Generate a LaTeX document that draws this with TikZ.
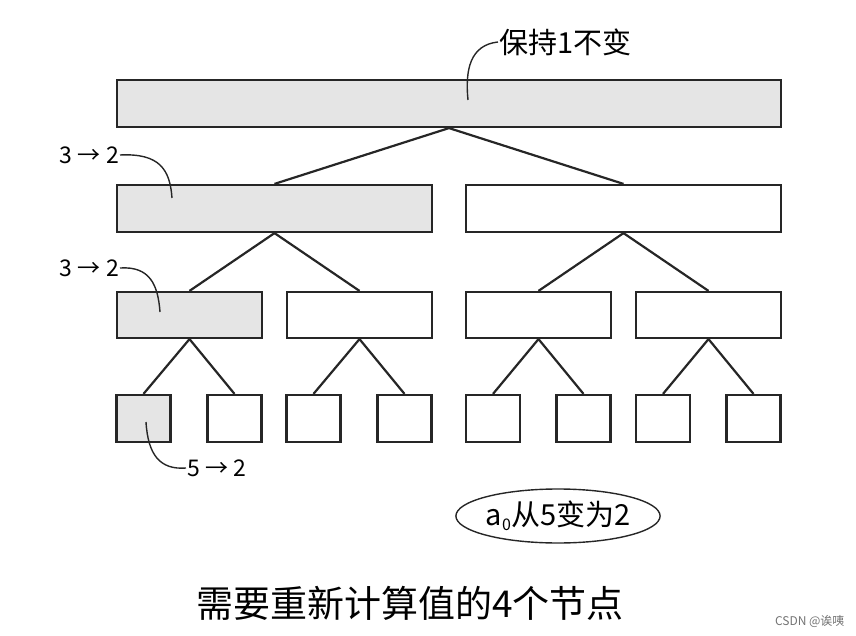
\documentclass[tikz,border=0pt]{standalone}
\usepackage{fontspec}
\usetikzlibrary{shapes.geometric}
\setmainfont{Noto Sans CJK SC}
\begin{document}
\begin{tikzpicture}[x=1pt,y=-1pt,
  bx/.style={draw=black!85,line width=2.2pt},
  sh/.style={bx,fill=black!10},
  wt/.style={bx,fill=white},
  ln/.style={draw=black!85,line width=2.2pt},
  cv/.style={draw=black!85,line width=1.4pt},
  lbl/.style={font=\fontsize{23}{26}\selectfont,inner sep=1pt}]
\useasboundingbox (0,0) rectangle (856,636);
% level 1
\node[sh,minimum width=664,minimum height=47,inner sep=0] (r) at (449,103.5) {};
% level 2
\node[sh,minimum width=315,minimum height=47,inner sep=0] (a) at (274.5,208.5) {};
\node[wt,minimum width=315,minimum height=47,inner sep=0] (b) at (623.5,208.5) {};
% level 3
\foreach \n/\x/\s in {c1/189.5/sh,c2/359.5/wt,c3/538.5/wt,c4/708.5/wt}
  \node[\s,minimum width=145,minimum height=46,inner sep=0] (\n) at (\x,315) {};
% level 4
\foreach \n/\x/\s in {d1/143.5/sh,d2/234.5/wt,d3/313.5/wt,d4/404.5/wt,d5/493/wt,d6/583.5/wt,d7/663/wt,d8/753.5/wt}
  \node[\s,minimum width=54,minimum height=47,inner sep=0] (\n) at (\x,418.5) {};
% connectors
\draw[ln] (r.south) -- (a.north) (r.south) -- (b.north);
\draw[ln] (a.south) -- (c1.north) (a.south) -- (c2.north);
\draw[ln] (b.south) -- (c3.north) (b.south) -- (c4.north);
\draw[ln] (c1.south) -- (d1.north) (c1.south) -- (d2.north);
\draw[ln] (c2.south) -- (d3.north) (c2.south) -- (d4.north);
\draw[ln] (c3.south) -- (d5.north) (c3.south) -- (d6.north);
\draw[ln] (c4.south) -- (d7.north) (c4.south) -- (d8.north);
% labels
\node[lbl,anchor=west,font=\fontsize{29}{32}\selectfont] (t1) at (498,42) {保持1不变};
\draw[cv] (t1.west) .. controls (470,45) and (465,70) .. (468,100);
\node[lbl,anchor=east] (t2) at (120,155) {3 → 2};
\draw[cv] (t2.east) .. controls (160,153) and (170,170) .. (172,198);
\node[lbl,anchor=east] (t3) at (120,268) {3 → 2};
\draw[cv] (t3.east) .. controls (150,266) and (158,285) .. (160,312);
\node[lbl,anchor=west] (t4) at (186,468) {5 → 2};
\draw[cv] (t4.west) .. controls (160,470) and (148,455) .. (146,422);
\node[draw=black!85,line width=1.4pt,ellipse,minimum width=192,minimum height=54,inner sep=0,font=\fontsize{29}{32}\selectfont] (e) at (558,516) {a\raisebox{-0.3ex}{\fontsize{16}{18}\selectfont 0}从5变为2};
\node[font=\fontsize{37}{40}\selectfont] (cap) at (410,603) {需要重新计算值的4个节点};
\node[font=\fontsize{12}{14}\selectfont,text=black!55,anchor=east] (wm) at (848,621) {CSDN @诶咦};
\end{tikzpicture}
\end{document}
